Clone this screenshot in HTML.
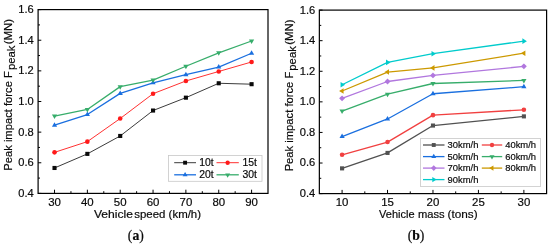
<!DOCTYPE html>
<html><head><meta charset="utf-8"><title>Peak impact force</title>
<style>html,body{margin:0;padding:0;background:#fff}svg{display:block}text{font-family:"Liberation Sans", Arial, sans-serif;fill:#0a0a0a;stroke:#0a0a0a;stroke-width:0.18px}</style>
</head><body>
<svg width="550" height="245" viewBox="0 0 550 245">
<rect width="550" height="245" fill="#fff"/>
<g>
<polyline points="54.52,167.97 87.36,153.88 120.21,135.96 153.05,110.54 185.89,97.67 218.74,83.27 251.58,84.19" fill="none" stroke="#303030" stroke-width="0.95" stroke-linejoin="round"/>
<rect x="52.47" y="165.92" width="4.1" height="4.1" fill="#0a0a0a"/>
<rect x="85.31" y="151.83" width="4.1" height="4.1" fill="#0a0a0a"/>
<rect x="118.16" y="133.91" width="4.1" height="4.1" fill="#0a0a0a"/>
<rect x="151" y="108.49" width="4.1" height="4.1" fill="#0a0a0a"/>
<rect x="183.84" y="95.62" width="4.1" height="4.1" fill="#0a0a0a"/>
<rect x="216.69" y="81.22" width="4.1" height="4.1" fill="#0a0a0a"/>
<rect x="249.53" y="82.14" width="4.1" height="4.1" fill="#0a0a0a"/>
<polyline points="54.52,152.35 87.36,141.63 120.21,118.5 153.05,93.69 185.89,80.98 218.74,71.48 251.58,61.98" fill="none" stroke="#ff1a1a" stroke-width="0.9" stroke-linejoin="round"/>
<circle cx="54.52" cy="152.35" r="2.3" fill="#ff1a1a"/>
<circle cx="87.36" cy="141.63" r="2.3" fill="#ff1a1a"/>
<circle cx="120.21" cy="118.5" r="2.3" fill="#ff1a1a"/>
<circle cx="153.05" cy="93.69" r="2.3" fill="#ff1a1a"/>
<circle cx="185.89" cy="80.98" r="2.3" fill="#ff1a1a"/>
<circle cx="218.74" cy="71.48" r="2.3" fill="#ff1a1a"/>
<circle cx="251.58" cy="61.98" r="2.3" fill="#ff1a1a"/>
<polyline points="54.52,125.24 87.36,114.52 120.21,93.38 153.05,82.81 185.89,74.7 218.74,67.04 251.58,53.25" fill="none" stroke="#1a6fdf" stroke-width="1.3" stroke-linejoin="round"/>
<polygon points="54.52,122.24 51.92,126.74 57.12,126.74" fill="#1a6fdf"/>
<polygon points="87.36,111.52 84.76,116.02 89.96,116.02" fill="#1a6fdf"/>
<polygon points="120.21,90.38 117.61,94.88 122.81,94.88" fill="#1a6fdf"/>
<polygon points="153.05,79.81 150.45,84.31 155.65,84.31" fill="#1a6fdf"/>
<polygon points="185.89,71.7 183.29,76.2 188.49,76.2" fill="#1a6fdf"/>
<polygon points="218.74,64.04 216.14,68.54 221.34,68.54" fill="#1a6fdf"/>
<polygon points="251.58,50.25 248.98,54.75 254.18,54.75" fill="#1a6fdf"/>
<polyline points="54.52,116.05 87.36,109.46 120.21,86.64 153.05,80.06 185.89,66.27 218.74,52.79 251.58,41" fill="none" stroke="#37ad6b" stroke-width="1.3" stroke-linejoin="round"/>
<polygon points="54.52,119.05 51.92,114.55 57.12,114.55" fill="#37ad6b"/>
<polygon points="87.36,112.46 84.76,107.96 89.96,107.96" fill="#37ad6b"/>
<polygon points="120.21,89.64 117.61,85.14 122.81,85.14" fill="#37ad6b"/>
<polygon points="153.05,83.06 150.45,78.56 155.65,78.56" fill="#37ad6b"/>
<polygon points="185.89,69.27 183.29,64.77 188.49,64.77" fill="#37ad6b"/>
<polygon points="218.74,55.79 216.14,51.29 221.34,51.29" fill="#37ad6b"/>
<polygon points="251.58,44 248.98,39.5 254.18,39.5" fill="#37ad6b"/>
<rect x="38.1" y="9.6" width="229.9" height="183.8" fill="none" stroke="#000" stroke-width="1.2"/>
<path d="M38.1,193.4h3.2M38.1,178.08h1.9M38.1,162.77h3.2M38.1,147.45h1.9M38.1,132.13h3.2M38.1,116.82h1.9M38.1,101.5h3.2M38.1,86.18h1.9M38.1,70.87h3.2M38.1,55.55h1.9M38.1,40.23h3.2M38.1,24.92h1.9M38.1,9.6h3.2M54.52,193.4v-3.7M87.36,193.4v-3.7M120.21,193.4v-3.7M153.05,193.4v-3.7M185.89,193.4v-3.7M218.74,193.4v-3.7M251.58,193.4v-3.7M70.94,193.4v-2.2M103.79,193.4v-2.2M136.63,193.4v-2.2M169.47,193.4v-2.2M202.31,193.4v-2.2M235.16,193.4v-2.2" stroke="#000" stroke-width="1" fill="none"/>
<text transform="translate(33.7,196.8) scale(1.09,1)" text-anchor="end" font-size="10.2">0.4</text>
<text transform="translate(33.7,166.17) scale(1.09,1)" text-anchor="end" font-size="10.2">0.6</text>
<text transform="translate(33.7,135.53) scale(1.09,1)" text-anchor="end" font-size="10.2">0.8</text>
<text transform="translate(33.7,104.9) scale(1.09,1)" text-anchor="end" font-size="10.2">1.0</text>
<text transform="translate(33.7,74.27) scale(1.09,1)" text-anchor="end" font-size="10.2">1.2</text>
<text transform="translate(33.7,43.63) scale(1.09,1)" text-anchor="end" font-size="10.2">1.4</text>
<text transform="translate(33.7,13) scale(1.09,1)" text-anchor="end" font-size="10.2">1.6</text>
<text transform="translate(54.52,206.1) scale(1.1,1)" text-anchor="middle" font-size="10.4">30</text>
<text transform="translate(87.36,206.1) scale(1.1,1)" text-anchor="middle" font-size="10.4">40</text>
<text transform="translate(120.21,206.1) scale(1.1,1)" text-anchor="middle" font-size="10.4">50</text>
<text transform="translate(153.05,206.1) scale(1.1,1)" text-anchor="middle" font-size="10.4">60</text>
<text transform="translate(185.89,206.1) scale(1.1,1)" text-anchor="middle" font-size="10.4">70</text>
<text transform="translate(218.74,206.1) scale(1.1,1)" text-anchor="middle" font-size="10.4">80</text>
<text transform="translate(251.58,206.1) scale(1.1,1)" text-anchor="middle" font-size="10.4">90</text>
<text transform="translate(93.9,218.1) scale(1.135,1)" text-anchor="start" font-size="10.7">Vehicle</text>
<text transform="translate(134.2,218.1) scale(1.07,1)" text-anchor="start" font-size="10.7">speed</text>
<text transform="translate(168.6,218.1) scale(1.07,1)" text-anchor="start" font-size="10.7">(km/h)</text>
<text transform="translate(12.3,170.75) rotate(-90) scale(1.028,1)" font-size="10.9">Peak impact force F</text>
<text transform="translate(14.8,70.1) rotate(-90) scale(1.01,1)" font-size="11.2">peak</text>
<text transform="translate(12.3,44.2) rotate(-90) scale(1.05,1)" font-size="10.9">(MN)</text>
<rect x="168.5" y="155.5" width="93.5" height="25.80000000000001" fill="#fff" stroke="#c8c8c8" stroke-width="0.8"/>
<path d="M174.2,162.7H196" stroke="#303030" stroke-width="0.95"/>
<rect x="183.15" y="160.75" width="3.89" height="3.89" fill="#0a0a0a"/>
<text transform="translate(199.3,165.9) scale(1.03,1)" text-anchor="start" font-size="10.1">10t</text>
<path d="M216.5,162.7H238.8" stroke="#ff1a1a" stroke-width="0.9"/>
<circle cx="227.65" cy="162.7" r="2.18" fill="#ff1a1a"/>
<text transform="translate(242.4,165.9) scale(1.03,1)" text-anchor="start" font-size="10.1">15t</text>
<path d="M174.2,174.8H196" stroke="#1a6fdf" stroke-width="1.3"/>
<polygon points="185.1,171.95 182.63,176.23 187.57,176.23" fill="#1a6fdf"/>
<text transform="translate(199.3,178) scale(1.03,1)" text-anchor="start" font-size="10.1">20t</text>
<path d="M216.5,174.8H238.8" stroke="#37ad6b" stroke-width="1.3"/>
<polygon points="227.65,177.65 225.18,173.38 230.12,173.38" fill="#37ad6b"/>
<text transform="translate(242.4,178) scale(1.03,1)" text-anchor="start" font-size="10.1">30t</text>
<text x="135.8" y="240" text-anchor="middle" style="font-family:'Liberation Serif', 'DejaVu Serif', serif" font-size="13.7"><tspan>(</tspan><tspan font-weight="bold">a</tspan><tspan>)</tspan></text>
</g>
<g>
<polyline points="342.08,168.37 387.53,152.92 432.98,125.55 523.88,116.38" fill="none" stroke="#515151" stroke-width="1.3" stroke-linejoin="round"/>
<rect x="340.03" y="166.32" width="4.1" height="4.1" fill="#515151"/>
<rect x="385.48" y="150.87" width="4.1" height="4.1" fill="#515151"/>
<rect x="430.93" y="123.5" width="4.1" height="4.1" fill="#515151"/>
<rect x="521.83" y="114.33" width="4.1" height="4.1" fill="#515151"/>
<polyline points="342.08,154.76 387.53,142.07 432.98,115.15 523.88,109.8" fill="none" stroke="#f14040" stroke-width="1.3" stroke-linejoin="round"/>
<circle cx="342.08" cy="154.76" r="2.3" fill="#f14040"/>
<circle cx="387.53" cy="142.07" r="2.3" fill="#f14040"/>
<circle cx="432.98" cy="115.15" r="2.3" fill="#f14040"/>
<circle cx="523.88" cy="109.8" r="2.3" fill="#f14040"/>
<polyline points="342.08,136.56 387.53,118.98 432.98,93.75 523.88,86.71" fill="none" stroke="#1a6fdf" stroke-width="1.3" stroke-linejoin="round"/>
<polygon points="342.08,133.56 339.48,138.06 344.68,138.06" fill="#1a6fdf"/>
<polygon points="387.53,115.98 384.93,120.48 390.13,120.48" fill="#1a6fdf"/>
<polygon points="432.98,90.75 430.38,95.25 435.58,95.25" fill="#1a6fdf"/>
<polygon points="523.88,83.71 521.27,88.21 526.48,88.21" fill="#1a6fdf"/>
<polyline points="342.08,111.03 387.53,94.2 432.98,83.5 523.88,80.44" fill="none" stroke="#37ad6b" stroke-width="1.3" stroke-linejoin="round"/>
<polygon points="342.08,114.03 339.48,109.53 344.68,109.53" fill="#37ad6b"/>
<polygon points="387.53,97.2 384.93,92.7 390.13,92.7" fill="#37ad6b"/>
<polygon points="432.98,86.5 430.38,82 435.58,82" fill="#37ad6b"/>
<polygon points="523.88,83.44 521.27,78.94 526.48,78.94" fill="#37ad6b"/>
<polyline points="342.08,98.33 387.53,81.51 432.98,75.4 523.88,66.37" fill="none" stroke="#b177de" stroke-width="1.3" stroke-linejoin="round"/>
<polygon points="342.08,95.38 339.13,98.33 342.08,101.28 345.03,98.33" fill="#b177de"/>
<polygon points="387.53,78.56 384.58,81.51 387.53,84.46 390.48,81.51" fill="#b177de"/>
<polygon points="432.98,72.45 430.03,75.4 432.98,78.35 435.93,75.4" fill="#b177de"/>
<polygon points="523.88,63.42 520.92,66.37 523.88,69.32 526.83,66.37" fill="#b177de"/>
<polyline points="342.08,90.99 387.53,72.03 432.98,67.9 523.88,53.22" fill="none" stroke="#cc9900" stroke-width="1.3" stroke-linejoin="round"/>
<polygon points="339.08,90.99 343.58,88.19 343.58,93.79" fill="#cc9900"/>
<polygon points="384.53,72.03 389.03,69.23 389.03,74.83" fill="#cc9900"/>
<polygon points="429.98,67.9 434.48,65.1 434.48,70.7" fill="#cc9900"/>
<polygon points="520.88,53.22 525.38,50.42 525.38,56.02" fill="#cc9900"/>
<polyline points="342.08,84.72 387.53,62.4 432.98,53.68 523.88,41.14" fill="none" stroke="#00cbcc" stroke-width="1.3" stroke-linejoin="round"/>
<polygon points="345.08,84.72 340.58,81.92 340.58,87.52" fill="#00cbcc"/>
<polygon points="390.53,62.4 386.03,59.6 386.03,65.2" fill="#00cbcc"/>
<polygon points="435.98,53.68 431.48,50.88 431.48,56.48" fill="#00cbcc"/>
<polygon points="526.88,41.14 522.38,38.34 522.38,43.94" fill="#00cbcc"/>
<rect x="319.35" y="10.1" width="227.25" height="183.5" fill="none" stroke="#000" stroke-width="1.2"/>
<path d="M319.35,193.6h3.2M319.35,178.31h1.9M319.35,163.02h3.2M319.35,147.72h1.9M319.35,132.43h3.2M319.35,117.14h1.9M319.35,101.85h3.2M319.35,86.56h1.9M319.35,71.27h3.2M319.35,55.97h1.9M319.35,40.68h3.2M319.35,25.39h1.9M319.35,10.1h3.2M342.08,193.6v-3.7M387.53,193.6v-3.7M432.98,193.6v-3.7M478.43,193.6v-3.7M523.88,193.6v-3.7M364.8,193.6v-2.2M410.25,193.6v-2.2M455.7,193.6v-2.2M501.15,193.6v-2.2" stroke="#000" stroke-width="1" fill="none"/>
<text transform="translate(315.25,197) scale(1.09,1)" text-anchor="end" font-size="10.2">0.4</text>
<text transform="translate(315.25,166.42) scale(1.09,1)" text-anchor="end" font-size="10.2">0.6</text>
<text transform="translate(315.25,135.83) scale(1.09,1)" text-anchor="end" font-size="10.2">0.8</text>
<text transform="translate(315.25,105.25) scale(1.09,1)" text-anchor="end" font-size="10.2">1.0</text>
<text transform="translate(315.25,74.67) scale(1.09,1)" text-anchor="end" font-size="10.2">1.2</text>
<text transform="translate(315.25,44.08) scale(1.09,1)" text-anchor="end" font-size="10.2">1.4</text>
<text transform="translate(315.25,13.5) scale(1.09,1)" text-anchor="end" font-size="10.2">1.6</text>
<text transform="translate(342.08,206.1) scale(1.1,1)" text-anchor="middle" font-size="10.4">10</text>
<text transform="translate(387.53,206.1) scale(1.1,1)" text-anchor="middle" font-size="10.4">15</text>
<text transform="translate(432.98,206.1) scale(1.1,1)" text-anchor="middle" font-size="10.4">20</text>
<text transform="translate(478.43,206.1) scale(1.1,1)" text-anchor="middle" font-size="10.4">25</text>
<text transform="translate(523.88,206.1) scale(1.1,1)" text-anchor="middle" font-size="10.4">30</text>
<text transform="translate(379.1,218.1) scale(1.03,1)" text-anchor="start" font-size="10.7">Vehicle</text>
<text transform="translate(418,218.1) scale(1.045,1)" text-anchor="start" font-size="10.7">mass</text>
<text transform="translate(447.6,218.1) scale(1.1,1)" text-anchor="start" font-size="10.7">(tons)</text>
<text transform="translate(293.3,171.35) rotate(-90) scale(1.028,1)" font-size="10.9">Peak impact force F</text>
<text transform="translate(295.8,70.7) rotate(-90) scale(1.01,1)" font-size="11.2">peak</text>
<text transform="translate(293.3,44.8) rotate(-90) scale(1.05,1)" font-size="10.9">(MN)</text>
<rect x="420.6" y="138.5" width="119.79999999999995" height="48.099999999999994" fill="#fff" stroke="#c8c8c8" stroke-width="0.8"/>
<path d="M423,145H444.5" stroke="#515151" stroke-width="1.3"/>
<rect x="431.8" y="143.05" width="3.89" height="3.89" fill="#515151"/>
<text transform="translate(447.6,148.2) scale(0.97,1)" text-anchor="start" font-size="9.7">30km/h</text>
<path d="M481.8,145H502.2" stroke="#f14040" stroke-width="1.3"/>
<circle cx="492" cy="145" r="2.18" fill="#f14040"/>
<text transform="translate(505.2,148.2) scale(0.97,1)" text-anchor="start" font-size="9.7">40km/h</text>
<path d="M423,156.6H444.5" stroke="#1a6fdf" stroke-width="1.3"/>
<polygon points="433.75,153.75 431.28,158.03 436.22,158.03" fill="#1a6fdf"/>
<text transform="translate(447.6,159.8) scale(0.97,1)" text-anchor="start" font-size="9.7">50km/h</text>
<path d="M481.8,156.6H502.2" stroke="#37ad6b" stroke-width="1.3"/>
<polygon points="492,159.45 489.53,155.17 494.47,155.17" fill="#37ad6b"/>
<text transform="translate(505.2,159.8) scale(0.97,1)" text-anchor="start" font-size="9.7">60km/h</text>
<path d="M423,168.1H444.5" stroke="#b177de" stroke-width="1.3"/>
<polygon points="433.75,165.3 430.95,168.1 433.75,170.9 436.55,168.1" fill="#b177de"/>
<text transform="translate(447.6,171.3) scale(0.97,1)" text-anchor="start" font-size="9.7">70km/h</text>
<path d="M481.8,168.1H502.2" stroke="#cc9900" stroke-width="1.3"/>
<polygon points="489.15,168.1 493.43,165.44 493.43,170.76" fill="#cc9900"/>
<text transform="translate(505.2,171.3) scale(0.97,1)" text-anchor="start" font-size="9.7">80km/h</text>
<path d="M423,179.6H444.5" stroke="#00cbcc" stroke-width="1.3"/>
<polygon points="436.6,179.6 432.32,176.94 432.32,182.26" fill="#00cbcc"/>
<text transform="translate(447.6,182.8) scale(0.97,1)" text-anchor="start" font-size="9.7">90km/h</text>
<text x="416" y="240" text-anchor="middle" style="font-family:'Liberation Serif', 'DejaVu Serif', serif" font-size="13.7"><tspan>(</tspan><tspan font-weight="bold">b</tspan><tspan>)</tspan></text>
</g>
</svg>
</body></html>
